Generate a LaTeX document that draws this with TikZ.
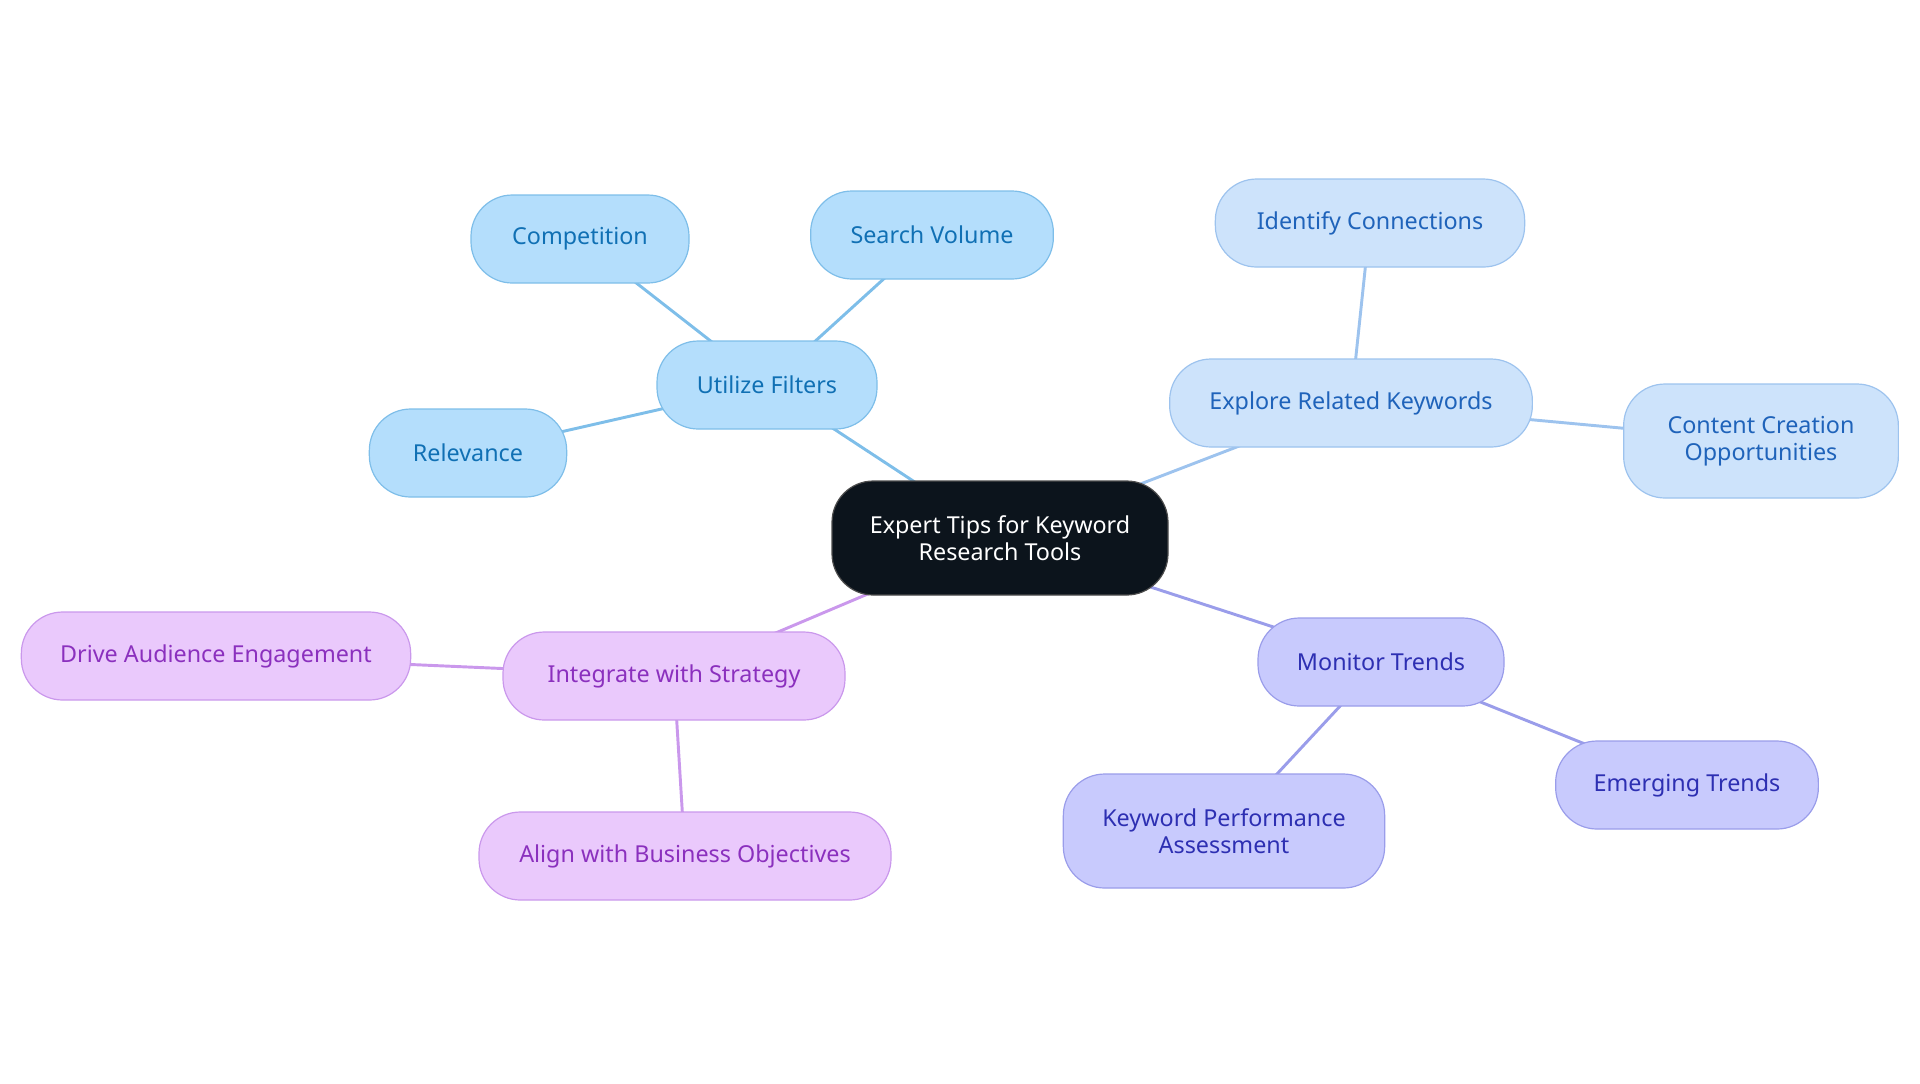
\documentclass[tikz,border=0pt]{standalone}
\usepackage{fontspec}
\setmainfont{Noto Sans}
\usepackage{tikz}
\usetikzlibrary{positioning,backgrounds}
\definecolor{hubfill}{HTML}{0C141C}
\definecolor{filtfill}{HTML}{B4DEFC}
\definecolor{filtline}{HTML}{7EBEE9}
\definecolor{filttext}{HTML}{1070B4}
\definecolor{explfill}{HTML}{CDE3FB}
\definecolor{explline}{HTML}{9DC3EE}
\definecolor{expltext}{HTML}{1F63BA}
\definecolor{montfill}{HTML}{C8CAFD}
\definecolor{montline}{HTML}{9A9DEA}
\definecolor{monttext}{HTML}{2D2FB2}
\definecolor{integfill}{HTML}{EAC9FC}
\definecolor{integline}{HTML}{CA98EC}
\definecolor{integtext}{HTML}{8B30BE}

\begin{document}
\begin{tikzpicture}[x=0.75pt,y=-0.75pt,
  pill/.style={rounded corners=31pt, line width=0.9pt, inner sep=0pt, minimum height=66pt,
    align=center, font=\fontsize{17.5}{20}\selectfont},
  tall/.style={minimum height=85.5pt},
  hubbox/.style={pill, tall, fill=hubfill, draw=black!70, text=white},
  filtbox/.style={pill, fill=filtfill, draw=filtline, text=filttext},
  explbox/.style={pill, fill=explfill, draw=explline, text=expltext},
  montbox/.style={pill, fill=montfill, draw=montline, text=monttext},
  integbox/.style={pill, fill=integfill, draw=integline, text=integtext},
  link/.style={line width=2.2pt}]
\useasboundingbox (0,0) rectangle (1920,1083);

% centre
\node[hubbox, minimum width=252pt] (hub) at (1000,538) {Expert Tips for Keyword\\Research Tools};

% filters
\node[filtbox, minimum width=165pt] (filters) at (767,385) {Utilize Filters};
\node[filtbox, minimum width=163.5pt] (competition) at (580,239) {Competition};
\node[filtbox, minimum width=182pt] (volume) at (932,235) {Search Volume};
\node[filtbox, minimum width=148pt] (relevance) at (468,453) {Relevance};

% related keywords
\node[explbox, minimum width=272pt] (related) at (1351,403) {Explore Related Keywords};
\node[explbox, minimum width=232pt] (connections) at (1370,223) {Identify Connections};
\node[explbox, tall, minimum width=206pt] (content) at (1761,441) {Content Creation\\Opportunities};

% trends
\node[montbox, minimum width=184.5pt] (trends) at (1381,662) {Monitor Trends};
\node[montbox, tall, minimum width=241pt] (performance) at (1224,831) {Keyword Performance\\Assessment};
\node[montbox, minimum width=197pt] (emerging) at (1687,785) {Emerging Trends};

% strategy
\node[integbox, minimum width=256.5pt] (strategy) at (674,676) {Integrate with Strategy};
\node[integbox, minimum width=292pt] (audience) at (216,656) {Drive Audience Engagement};
\node[integbox, minimum width=309pt] (business) at (685,856) {Align with Business Objectives};

% links, behind the boxes
\begin{scope}[on background layer]
\draw[link, filtline] (hub.center) -- (filters.center);
\draw[link, filtline] (filters.center) -- (competition.center);
\draw[link, filtline] (filters.center) -- (volume.center);
\draw[link, filtline] (filters.center) -- (relevance.center);
\draw[link, explline] (hub.center) -- (related.center);
\draw[link, explline] (related.center) -- (connections.center);
\draw[link, explline] (related.center) -- (content.center);
\draw[link, montline] (hub.center) -- (trends.center);
\draw[link, montline] (trends.center) -- (performance.center);
\draw[link, montline] (trends.center) -- (emerging.center);
\draw[link, integline] (hub.center) -- (strategy.center);
\draw[link, integline] (strategy.center) -- (audience.center);
\draw[link, integline] (strategy.center) -- (business.center);
\end{scope}
\end{tikzpicture}
\end{document}
